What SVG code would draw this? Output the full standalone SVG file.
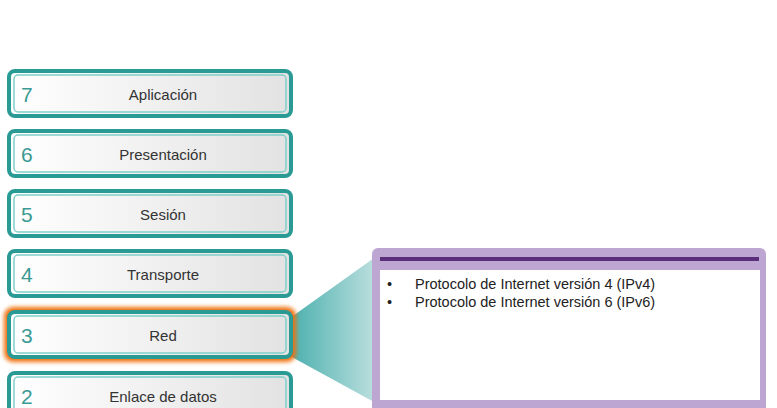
<svg xmlns="http://www.w3.org/2000/svg" width="777" height="408" viewBox="0 0 777 408">
<defs>
<linearGradient id="g" x1="0" y1="0" x2="1" y2="0"><stop offset="0" stop-color="#ffffff"/><stop offset="1" stop-color="#e2e2e2"/></linearGradient>
<linearGradient id="t" x1="0" y1="0" x2="1" y2="0"><stop offset="0" stop-color="#4bb0ae"/><stop offset="1" stop-color="#b9dedd"/></linearGradient>
<filter id="glow" x="-10%" y="-30%" width="120%" height="160%"><feGaussianBlur stdDeviation="2"/></filter>
</defs>
<style>
.box{fill:url(#g);stroke:#2a9a94;stroke-width:4}
.in{fill:none;stroke:#7fcfca;stroke-width:1.5}
.num{font-family:"Liberation Sans",Arial,sans-serif;font-size:21px;fill:#3a9a94}
.lbl{font-family:"Liberation Sans",Arial,sans-serif;font-size:15px;fill:#333;text-anchor:middle}
.b{font-family:"Liberation Sans",Arial,sans-serif;font-size:14.5px;fill:#222}
</style>
<rect width="777" height="408" fill="#fff"/>
<g id="connectors">
<polygon points="290,318 374,258 374,402 290,356" fill="url(#t)"/>
</g>
<g id="panel">
<rect x="372" y="248" width="394" height="170" rx="6" fill="#bda6d2"/>
<rect x="380" y="257" width="379" height="4" fill="#5a2e7a"/>
<rect x="380" y="270" width="380" height="130" fill="#fff"/>
<text class="b" x="387" y="289">•</text><text class="b" x="415" y="289">Protocolo de Internet versión 4 (IPv4)</text>
<text class="b" x="387" y="307">•</text><text class="b" x="415" y="307">Protocolo de Internet versión 6 (IPv6)</text>
</g>
<g id="l7"><rect class="box" x="9" y="71" width="282" height="45" rx="6"/><rect class="in" x="14" y="75" width="272" height="37" rx="4"/><text class="num" x="21" y="102">7</text><text class="lbl" x="163" y="100">Aplicación</text></g>
<g id="l6"><rect class="box" x="9" y="131" width="282" height="45" rx="6"/><rect class="in" x="14" y="135" width="272" height="37" rx="4"/><text class="num" x="21" y="162">6</text><text class="lbl" x="163" y="160">Presentación</text></g>
<g id="l5"><rect class="box" x="9" y="191" width="282" height="45" rx="6"/><rect class="in" x="14" y="195" width="272" height="37" rx="4"/><text class="num" x="21" y="222">5</text><text class="lbl" x="163" y="220">Sesión</text></g>
<g id="l4"><rect class="box" x="9" y="251" width="282" height="45" rx="6"/><rect class="in" x="14" y="255" width="272" height="37" rx="4"/><text class="num" x="21" y="282">4</text><text class="lbl" x="163" y="280">Transporte</text></g>
<g id="l3"><rect x="4" y="307" width="292" height="55" rx="9" fill="#ef6f10" filter="url(#glow)"/><rect class="box" x="9" y="312" width="282" height="45" rx="6"/><rect class="in" x="14" y="316" width="272" height="37" rx="4"/><text class="num" x="21" y="343">3</text><text class="lbl" x="163" y="341">Red</text></g>
<g id="l2"><rect class="box" x="9" y="373" width="282" height="45" rx="6"/><rect class="in" x="14" y="377" width="272" height="37" rx="4"/><text class="num" x="21" y="404">2</text><text class="lbl" x="163" y="402">Enlace de datos</text></g>
</svg>
